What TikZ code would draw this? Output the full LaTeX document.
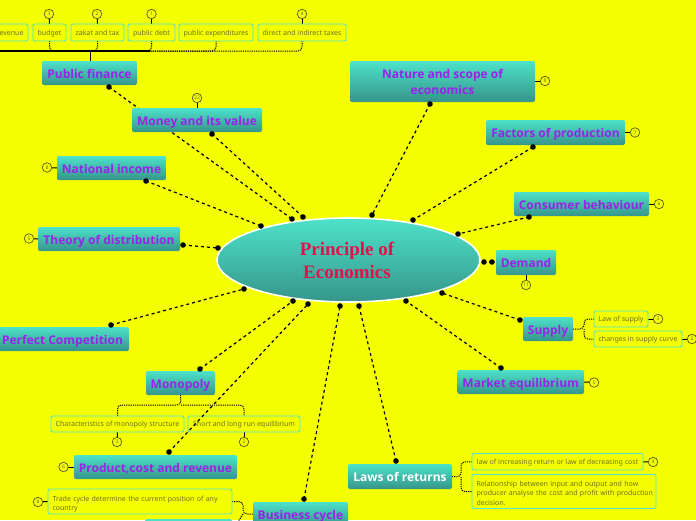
\documentclass[tikz,border=0pt]{standalone}
\usepackage{fontspec}
\setmainfont{Noto Sans}
\newfontfamily\topicfont{Open Sans}
\newfontfamily\titlefont{Liberation Serif}
\usetikzlibrary{backgrounds,shapes.geometric}
\definecolor{bgy}{HTML}{F4FF00}
\definecolor{tealtop}{HTML}{4DE2CA}
\definecolor{tealbot}{HTML}{36958A}
\definecolor{purp}{HTML}{9A22EA}
\definecolor{olive}{HTML}{6F7020}
\definecolor{cyanline}{HTML}{4DE6D8}
\definecolor{crim}{HTML}{E0124E}
\tikzset{
 topic/.style={rectangle,rounded corners=2pt,top color=tealtop,bottom color=tealbot,inner sep=0pt,outer sep=0pt,align=center,text=purp,font=\topicfont\fontsize{12}{16}\selectfont\bfseries},
 oneline/.style={text height=11pt,text depth=1pt},
 sub/.style={rectangle,rounded corners=2pt,draw=cyanline,line width=.9pt,fill=bgy,inner sep=0pt,outer sep=0pt,text=olive,font=\fontsize{7}{9.2}\selectfont},
 subline/.style={text height=6pt,text depth=1pt},
 num/.style={circle,draw=olive!80!black,line width=.7pt,fill=bgy,minimum size=9.5pt,inner sep=0pt,outer sep=0pt,text=olive,font=\fontsize{5}{5}\selectfont},
 dot/.style={circle,fill=black,minimum size=5.6pt,inner sep=0pt,outer sep=0pt},
 conn/.style={draw=black,line width=1.2pt,dash pattern=on 3pt off 3pt},
 brk/.style={draw=black,line width=1pt,dash pattern=on 1.2pt off 1pt,rounded corners=4pt},
 stem/.style={draw=black,line width=1pt},
}
\begin{document}
\begin{tikzpicture}[x=1pt,y=-1pt]
\path[use as bounding box] (0,0) rectangle (696,520);
\begin{pgfonlayer}{background}
\fill[bgy] (0,0) rectangle (696,520);
\end{pgfonlayer}

% centre
\node[ellipse,draw=white,line width=1.6pt,top color=tealtop,bottom color=tealbot,minimum width=263pt,minimum height=84pt,inner sep=0pt,outer sep=0pt] (core) at (348.5,260) {};
\node[text=crim,align=center,font=\titlefont\fontsize{19}{23}\selectfont\bfseries] (coretext) at (347,260.5) {Principle of\\Economics};

% topics
\node[topic,oneline,minimum width=95pt,minimum height=24pt] (pf) at (89.5,73) {Public finance};
\node[topic,oneline,minimum width=130pt,minimum height=24pt] (money) at (197,120) {Money and its value};
\node[topic,oneline,minimum width=109pt,minimum height=24pt] (nat) at (111.5,168) {National income};
\node[topic,oneline,minimum width=142pt,minimum height=24pt] (theory) at (109,239) {Theory of distribution};
\node[topic,oneline,minimum width=133pt,minimum height=24pt] (perfect) at (62.5,339) {Perfect Competition};
\node[topic,oneline,minimum width=69pt,minimum height=24pt] (mono) at (180.5,383) {Monopoly};
\node[topic,oneline,minimum width=163pt,minimum height=24pt] (prod) at (155.5,467) {Product,cost and revenue};
\node[topic,oneline,minimum width=95pt,minimum height=24pt] (bus) at (300.5,514) {Business cycle};
\node[topic,oneline,minimum width=104pt,minimum height=25pt,text=white] (laws) at (400,476.5) {Laws of returns};
\node[topic,oneline,minimum width=126.5pt,minimum height=24pt] (market) at (520.75,382) {Market equilibrium};
\node[topic,oneline,minimum width=50pt,minimum height=24pt] (supply) at (548,329) {Supply};
\node[topic,oneline,minimum width=60pt,minimum height=25pt] (demand) at (526,262.5) {Demand};
\node[topic,oneline,minimum width=135pt,minimum height=24pt] (cons) at (581.5,204) {Consumer behaviour};
\node[topic,oneline,minimum width=139pt,minimum height=25pt] (fact) at (555.5,132.5) {Factors of production};
\node[topic,minimum width=185pt,minimum height=41pt] (nature) at (442.5,81.5) {Nature and scope of\\economics};
\node[topic,minimum width=87pt,minimum height=24pt] (hidden) at (188.5,531) {};

% sub boxes
\node[sub,subline,minimum height=17pt,anchor=east,inner xsep=4.5pt] (s0) at (28,32.5) {evenue};
\node[sub,subline,minimum width=33pt,minimum height=17pt] (s1) at (49.5,32.5) {budget};
\node[sub,subline,minimum width=53pt,minimum height=17pt] (s2) at (97.5,32.5) {zakat and tax};
\node[sub,subline,minimum width=47pt,minimum height=17pt] (s3) at (151.5,32.5) {public debt};
\node[sub,subline,minimum width=74pt,minimum height=17pt] (s4) at (216,32.5) {public expenditures};
\node[sub,subline,minimum width=88pt,minimum height=17pt] (s5) at (302,32.5) {direct and indirect taxes};
\node[sub,subline,minimum width=133pt,minimum height=16pt] (m1) at (117.5,424) {Characteristics of monopoly structure};
\node[sub,subline,minimum width=112pt,minimum height=16pt] (m2) at (244,424) {Short and long run equilibrium};
\node[sub,minimum width=184pt,minimum height=25pt,align=left,text width=175pt] (t1) at (140,501.5) {\mbox{\rule{0pt}{11pt}Trade cycle determine the current position of any}\\country};
\node[sub,subline,minimum width=54pt,minimum height=16pt] (l1) at (621,319) {Law of supply};
\node[sub,subline,minimum width=88pt,minimum height=16pt] (l2) at (638,339) {changes in supply curve};
\node[sub,subline,minimum width=171pt,minimum height=16.5pt] (r1) at (557.5,461.75) {law of increasing return or law of decreasing cost};
\node[sub,minimum width=184pt,minimum height=34pt,align=left,text width=175pt] (r2) at (564,491.5) {\mbox{\rule{0pt}{9pt}Relationship between input and output and how}\\\mbox{producer analyse the cost and profit with production}\\decision.};

% number badges
\node[num] (n1) at (49,14) {3};
\node[num] (n2) at (97,14) {2};
\node[num] (n3) at (151.5,14) {1};
\node[num] (n4) at (302,14) {4};
\node[num] (n5) at (197,98) {22};
\node[num] (n6) at (47,167.5) {8};
\node[num] (n7) at (29,238.5) {5};
\node[num] (n8) at (117,442) {3};
\node[num] (n9) at (244,442) {2};
\node[num] (n10) at (63.5,467) {6};
\node[num] (n11) at (38,502) {8};
\node[num] (n12) at (653,462) {4};
\node[num] (n13) at (594,382.5) {5};
\node[num] (n14) at (658,319) {3};
\node[num] (n15) at (692,339) {2};
\node[num] (n16) at (526,285) {11};
\node[num] (n17) at (659,204) {6};
\node[num] (n18) at (635,132.5) {7};
\node[num] (n19) at (545,81) {8};

% anchor dots
\node[dot] (a1) at (109,87) {};
\node[dot] (a2) at (212,134) {};
\node[dot] (a3) at (146,181) {};
\node[dot] (a4) at (183,245) {};
\node[dot] (a5) at (111,325) {};
\node[dot] (a6) at (200,369) {};
\node[dot] (a7) at (169,452) {};
\node[dot] (a8) at (304,499) {};
\node[dot] (a9) at (396,461) {};
\node[dot] (a10) at (501,368) {};
\node[dot] (a11) at (520,320) {};
\node[dot] (a12) at (492,262) {};
\node[dot] (a13) at (529,217) {};
\node[dot] (a14) at (533,147) {};
\node[dot] (a15) at (430,104) {};
\node[dot] (b1) at (292,219) {};
\node[dot] (b2) at (303,217) {};
\node[dot] (b3) at (261,226) {};
\node[dot] (b4) at (218,248) {};
\node[dot] (b5) at (244,289) {};
\node[dot] (b6) at (293,301) {};
\node[dot] (b7) at (308,304) {};
\node[dot] (b8) at (340,306) {};
\node[dot] (b9) at (359,306) {};
\node[dot] (b10) at (406,301) {};
\node[dot] (b11) at (442,293) {};
\node[dot] (b12) at (484,262) {};
\node[dot] (b13) at (458,234) {};
\node[dot] (b14) at (413,220) {};
\node[dot] (b15) at (372,215) {};

% bracket joints
\coordinate (pfj) at (90,51);
\coordinate (pfl) at (0,51);
\coordinate (mj) at (181,405);
\coordinate (sj) at (584,329);
\coordinate (lj) at (461,477);
\coordinate (bj) at (243,514);

\begin{pgfonlayer}{background}
\draw[conn] (a1.center) -- (b1.center);
\draw[conn] (a2.center) -- (b2.center);
\draw[conn] (a3.center) -- (b3.center);
\draw[conn] (a4.center) -- (b4.center);
\draw[conn] (a5.center) -- (b5.center);
\draw[conn] (a6.center) -- (b6.center);
\draw[conn] (a8.center) -- (b8.center);
\draw[conn] (a9.center) -- (b9.center);
\draw[conn] (a10.center) -- (b10.center);
\draw[conn] (a11.center) -- (b11.center);
\draw[conn] (a12.center) -- (b12.center);
\draw[conn] (a13.center) -- (b13.center);
\draw[conn] (a14.center) -- (b14.center);
\draw[conn] (a15.center) -- (b15.center);
% public finance fan
\draw[stem] (pf.north -| pfj) -- (pfj);
\draw[line width=1.1pt] (pfl) -- (pfj) -- (150,51);
\draw[brk] (s1.south) |- (pfj);
\draw[brk] (s2.south) |- (pfj);
\draw[brk] (s3.south) |- (pfj);
\draw[brk] (s4.south) |- (pfj);
\draw[brk] (s5.south) |- (pfj);
% monopoly
\draw[brk] (mono.south) -- (mj) -| (m1.north);
\draw[brk] (mj) -| (m2.north);
% supply
\draw[brk] (supply.east) -- (sj) |- (l1.west);
\draw[brk] (sj) |- (l2.west);
% laws
\draw[brk] (laws.east) -- (lj) |- (r1.west);
\draw[brk] (lj) |- (r2.west);
% business
\draw[brk] (bus.west) -- (bj) |- (t1.east);
\draw[brk] (bj) -- (hidden.east);
% stems
\draw[stem] (n1) -- (s1.north);
\draw[stem] (n2) -- (s2.north);
\draw[stem] (n3) -- (s3.north);
\draw[stem] (n4) -- (s5.north);
\draw[stem] (n5) -- (money.north -| n5);
\draw[stem] (n6) -- (nat.west);
\draw[stem] (n7) -- (theory.west);
\draw[stem] (n8) -- (m1.south);
\draw[stem] (n9) -- (m2.south);
\draw[stem] (n10) -- (prod.west);
\draw[stem] (n11) -- (t1.west);
\draw[stem] (n12) -- (r1.east);
\draw[stem] (n13) -- (market.east);
\draw[stem] (n14) -- (l1.east);
\draw[stem] (n15) -- (l2.east);
\draw[stem] (n16) -- (demand.south);
\draw[stem] (n17) -- (cons.east);
\draw[stem] (n18) -- (fact.east);
\draw[stem] (n19) -- (nature.east |- n19);
\end{pgfonlayer}
% this connector crosses the monopoly boxes
\draw[conn] (a7.center) -- (b7.center);
\end{tikzpicture}
\end{document}
